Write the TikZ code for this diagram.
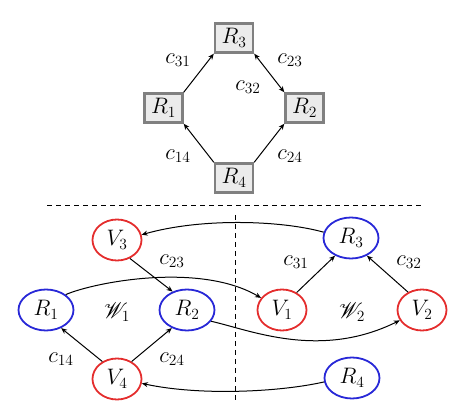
\documentclass[tikz,border=0pt]{standalone}
\usepackage{graphicx}
\usepackage{mathrsfs}
\usetikzlibrary{arrows.meta,shapes.geometric}
\definecolor{myred}{RGB}{228,45,45}
\definecolor{myblue}{RGB}{40,40,215}
\definecolor{boxgray}{RGB}{128,128,128}
\definecolor{boxfill}{RGB}{235,235,235}
\newcommand{\tx}[1]{\scalebox{1.08}{$#1$}}
\begin{document}
\begin{tikzpicture}[x=1pt,y=-1pt,
  font=\fontsize{20.74}{25}\selectfont,
  rbox/.style={draw=boxgray,fill=boxfill,line width=2.4pt,minimum width=38pt,minimum height=29pt,inner sep=0pt},
  bnode/.style={ellipse,draw=myblue,line width=1.8pt,minimum width=55pt,minimum height=41pt,inner sep=0pt},
  rnode/.style={ellipse,draw=myred,line width=1.8pt,minimum width=49pt,minimum height=41pt,inner sep=0pt},
  arr/.style={line width=1pt,-{Stealth[length=6pt,width=5pt]}},
  darr/.style={line width=1pt,{Stealth[length=6pt,width=5pt]}-{Stealth[length=6pt,width=5pt]}},
  lbl/.style={inner sep=0pt}]
\useasboundingbox (0,0) rectangle (474,403);
% top graph
\node[rbox] (R3) at (234,38) {\tx{R_3}};
\node[rbox] (R1) at (163.5,108) {\tx{R_1}};
\node[rbox] (R2) at (304.5,108) {\tx{R_2}};
\node[rbox] (R4) at (234,178) {\tx{R_4}};
\draw[arr] (R1.north east) -- (R3.south west);
\draw[darr] (R3.south east) -- (R2.north west);
\draw[arr] (R4.north west) -- (R1.south east);
\draw[arr] (R4.north east) -- (R2.south west);
\node[lbl] (t31) at (178,60) {\tx{c_{31}}};
\node[lbl] (t23) at (290,60) {\tx{c_{23}}};
\node[lbl] (t32) at (248,87) {\tx{c_{32}}};
\node[lbl] (t14) at (178,156) {\tx{c_{14}}};
\node[lbl] (t24) at (290,156) {\tx{c_{24}}};
% separators
\coordinate (hl) at (47,205);
\coordinate (hr) at (422,205);
\coordinate (vt) at (235,215);
\coordinate (vb) at (235,403);
\draw[line width=0.8pt,dash pattern=on 5pt off 4pt] (hl) -- (hr);
\draw[line width=0.8pt,dash pattern=on 5pt off 4pt] (vt) -- (vb);
% bottom graph
\node[rnode] (V3) at (117,240) {\tx{V_3}};
\node[bnode] (B3) at (351,238) {\tx{R_3}};
\node[bnode] (B1) at (46,310) {\tx{R_1}};
\node[bnode] (B2) at (187,310) {\tx{R_2}};
\node[rnode] (V1) at (282,310) {\tx{V_1}};
\node[rnode] (V2) at (422,310) {\tx{V_2}};
\node[rnode] (V4) at (117,379) {\tx{V_4}};
\node[bnode] (B4) at (352,378) {\tx{R_4}};
\node[lbl] (W1) at (117,312) {\tx{\mathscr{W}_1}};
\node[lbl] (W2) at (352,312) {\tx{\mathscr{W}_2}};
\node[lbl] (b23) at (172,261) {\tx{c_{23}}};
\node[lbl] (b31) at (296,262) {\tx{c_{31}}};
\node[lbl] (b32) at (409,262) {\tx{c_{32}}};
\node[lbl] (b14) at (61,359) {\tx{c_{14}}};
\node[lbl] (b24) at (172,359) {\tx{c_{24}}};
\draw[arr] (B3.168) .. controls (280,220) and (200,218) .. (V3.12);
\draw[arr] (V3.-55) -- (B2.128);
\draw[arr] (B1.38) .. controls (95,282) and (200,262) .. (V1.150);
\draw[arr] (V1.50) -- (B3.228);
\draw[arr] (V2.128) -- (B3.-48);
\draw[arr] (B2.-25) .. controls (250,330) and (320,360) .. (V2.205);
\draw[arr] (V4.130) -- (B1.-50);
\draw[arr] (V4.50) -- (B2.230);
\draw[arr] (B4.188) .. controls (280,392) and (200,396) .. (V4.-10);
\end{tikzpicture}
\end{document}
